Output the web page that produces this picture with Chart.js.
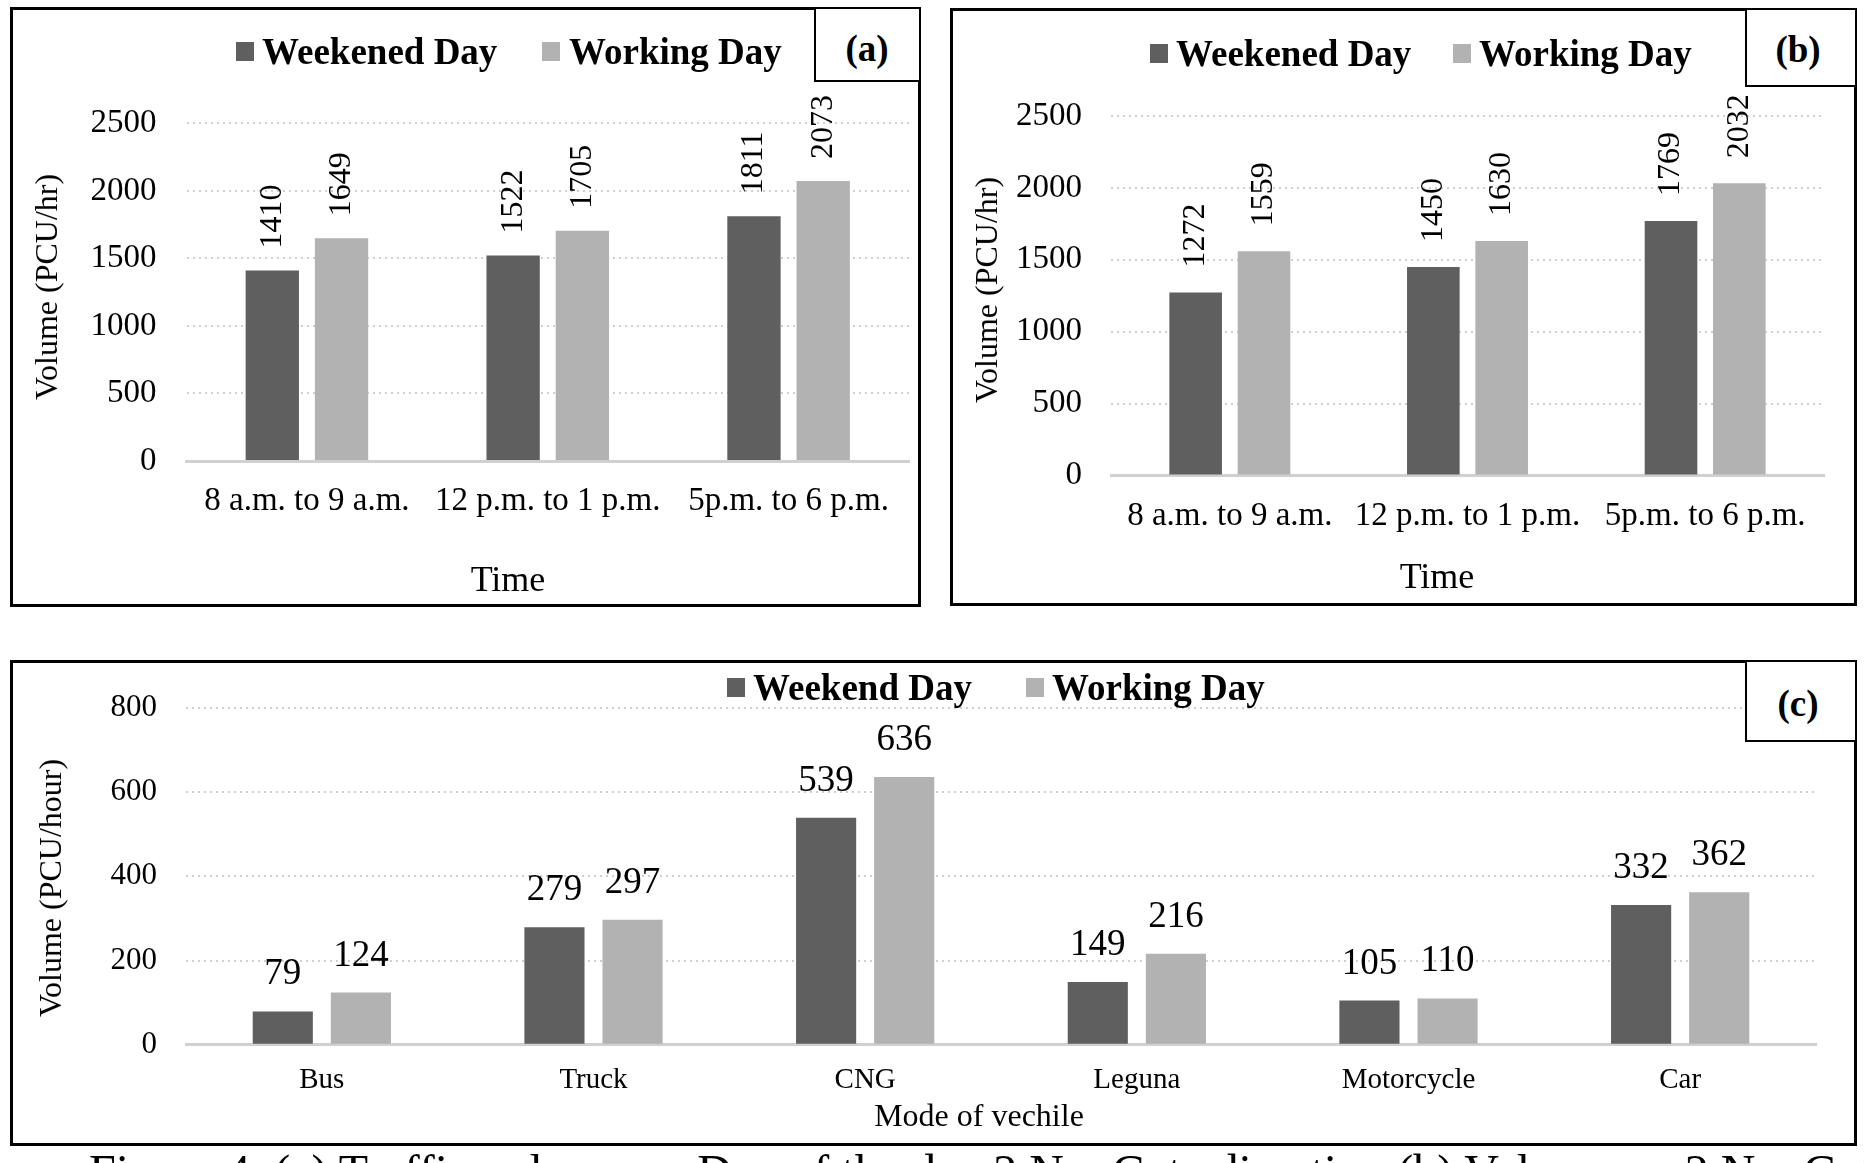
<!DOCTYPE html>
<html>
<head>
<meta charset="utf-8">
<script src="https://cdn.jsdelivr.net/npm/chart.js@4.4.0/dist/chart.umd.min.js"></script>
<style>
html,body{margin:0;padding:0;background:#fff;width:1864px;height:1163px;overflow:hidden;font-family:"Liberation Serif","Times New Roman",serif;color:#000;}
.panel{position:absolute;border:3px solid #000;box-sizing:border-box;}
canvas{position:absolute;}
.tag{position:absolute;border:2px solid #000;box-sizing:border-box;background:#fff;}
.txt{position:absolute;white-space:nowrap;line-height:1;}
.c{transform:translate(-50%,-50%);}
.r{transform:translate(-50%,-50%) rotate(-90deg);}
.l{transform:translateY(-50%);}
.b{font-weight:bold;}
.sw{position:absolute;width:18px;height:19px;}
</style>
</head>
<body>

<!-- panel frames -->
<div class="panel" style="left:10px;top:7px;width:911px;height:600px;"></div>
<div class="panel" style="left:950px;top:8px;width:907px;height:598px;"></div>
<div class="panel" style="left:10px;top:660px;width:1847px;height:486px;"></div>

<canvas id="chartA" width="911" height="600" style="left:10px;top:7px;"></canvas>
<canvas id="chartB" width="907" height="598" style="left:950px;top:8px;"></canvas>
<canvas id="chartC" width="1847" height="486" style="left:10px;top:660px;"></canvas>

<!-- panel tags -->
<div class="tag" style="left:814px;top:7px;width:107px;height:75px;"></div>
<div class="txt c b" style="left:867px;top:48px;font-size:37px;">(a)</div>
<div class="tag" style="left:1745px;top:8px;width:112px;height:79px;"></div>
<div class="txt c b" style="left:1798px;top:49px;font-size:37px;">(b)</div>
<div class="tag" style="left:1745px;top:660px;width:112px;height:82px;"></div>
<div class="txt c b" style="left:1798px;top:703px;font-size:37px;">(c)</div>

<!-- legends -->
<div class="sw" style="left:236px;top:42px;background:#5f5f5f;"></div>
<div class="txt l b" style="left:262px;top:51px;font-size:37px;">Weekened Day</div>
<div class="sw" style="left:542px;top:42px;background:#b2b2b2;"></div>
<div class="txt l b" style="left:569px;top:51px;font-size:37px;">Working Day</div>

<div class="sw" style="left:1150px;top:44px;background:#5f5f5f;"></div>
<div class="txt l b" style="left:1176px;top:53px;font-size:37px;">Weekened Day</div>
<div class="sw" style="left:1453px;top:44px;background:#b2b2b2;"></div>
<div class="txt l b" style="left:1479px;top:53px;font-size:37px;">Working Day</div>

<div class="sw" style="left:727px;top:678px;background:#5f5f5f;"></div>
<div class="txt l b" style="left:753px;top:687px;font-size:37px;">Weekend Day</div>
<div class="sw" style="left:1026px;top:678px;background:#b2b2b2;"></div>
<div class="txt l b" style="left:1052px;top:687px;font-size:37px;">Working Day</div>

<!-- axis titles -->
<div class="txt r" style="left:46px;top:287px;font-size:32px;">Volume (PCU/hr)</div>
<div class="txt c" style="left:508px;top:579px;font-size:36px;">Time</div>
<div class="txt r" style="left:986px;top:290px;font-size:32px;">Volume (PCU/hr)</div>
<div class="txt c" style="left:1437px;top:576px;font-size:36px;">Time</div>
<div class="txt r" style="left:50px;top:888px;font-size:32px;">Volume (PCU/hour)</div>
<div class="txt c" style="left:979px;top:1115px;font-size:32px;">Mode of vechile</div>

<!-- caption (cut off by page edge) -->
<div class="txt" style="left:89px;top:1148px;font-size:48px;">Figure 4. (a) Traffic volume on Day of the day 2 No. Gate direction (b) Volume on 2 No. Gate direction</div>

<script>
// ---------- data ----------
const timeLabels = ['8 a.m. to 9 a.m.', '12 p.m. to 1 p.m.', '5p.m. to 6 p.m.'];
const aWeekend = [1410, 1522, 1811];
const aWorking = [1649, 1705, 2073];
const bWeekend = [1272, 1450, 1769];
const bWorking = [1559, 1630, 2032];
const modeLabels = ['Bus', 'Truck', 'CNG', 'Leguna', 'Motorcycle', 'Car'];
const cWeekend = [79, 279, 539, 149, 105, 332];
const cWorking = [124, 297, 636, 216, 110, 362];
const timeTicks = [0, 500, 1000, 1500, 2000, 2500];
const modeTicks = [0, 200, 400, 600, 800];

// ---------- styling ----------
const DARK = '#5f5f5f';
const LIGHT = '#b2b2b2';
const FONT = '"Liberation Serif", "Times New Roman", serif';

const valueLabels = {
  id: 'valueLabels',
  afterDatasetsDraw(chart, args, opts) {
    const ctx = chart.ctx;
    ctx.save();
    ctx.fillStyle = '#000';
    ctx.font = opts.size + 'px ' + FONT;
    chart.data.datasets.forEach((ds, i) => {
      chart.getDatasetMeta(i).data.forEach((bar, j) => {
        const txt = String(ds.data[j]);
        if (opts.rotate) {
          ctx.save();
          ctx.translate(bar.x, bar.y - opts.offset);
          ctx.rotate(-Math.PI / 2);
          ctx.textAlign = 'left';
          ctx.textBaseline = 'middle';
          ctx.fillText(txt, 0, 0);
          ctx.restore();
        } else {
          ctx.textAlign = 'center';
          ctx.textBaseline = 'alphabetic';
          ctx.fillText(txt, bar.x, bar.y - opts.offset);
        }
      });
    });
    ctx.restore();
  }
};

function makeChart(id, canvasRect, plotRect, labels, weekend, working, ticks, st) {
  const padTop = plotRect.top - canvasRect.top;
  const padRight = canvasRect.right - plotRect.right;
  const yW = plotRect.left - canvasRect.left;
  const xH = canvasRect.bottom - plotRect.bottom;
  return new Chart(document.getElementById(id), {
    type: 'bar',
    data: {
      labels: labels,
      datasets: [
        { label: 'Weekend Day', data: weekend, backgroundColor: DARK, categoryPercentage: 0.575, barPercentage: 0.77 },
        { label: 'Working Day', data: working, backgroundColor: LIGHT, categoryPercentage: 0.575, barPercentage: 0.77 }
      ]
    },
    options: {
      responsive: false,
      animation: false,
      layout: { padding: { top: padTop, right: padRight, left: 0, bottom: 0 } },
      plugins: {
        legend: { display: false },
        tooltip: { enabled: false },
        valueLabels: st.labels
      },
      scales: {
        x: {
          grid: { display: false, drawTicks: false },
          border: { display: true, color: '#d0d0d0', width: 3 },
          ticks: { color: '#000', font: { family: FONT, size: st.xSize }, padding: st.xPad, maxRotation: 0, autoSkip: false },
          afterFit: s => { s.height = xH; }
        },
        y: {
          min: ticks[0],
          max: ticks[ticks.length - 1],
          afterBuildTicks: s => { s.ticks = ticks.map(v => ({ value: v })); },
          grid: { color: '#cfcfcf', lineWidth: 2, drawTicks: false },
          border: { display: false, dash: [2, 4] },
          ticks: { color: '#000', font: { family: FONT, size: st.ySize }, padding: st.yPad, callback: v => String(v) },
          afterFit: s => { s.width = yW; }
        }
      }
    },
    plugins: [valueLabels]
  });
}

makeChart('chartA',
  { left: 10, top: 7, right: 921, bottom: 607 },
  { left: 186.5, top: 123.3, right: 909, bottom: 461 },
  timeLabels, aWeekend, aWorking, timeTicks,
  { xSize: 33, xPad: 21, ySize: 33, yPad: 30, labels: { rotate: true, offset: 22, size: 32 } });

makeChart('chartB',
  { left: 950, top: 8, right: 1857, bottom: 606 },
  { left: 1111, top: 116, right: 1824, bottom: 475.5 },
  timeLabels, bWeekend, bWorking, timeTicks,
  { xSize: 33, xPad: 21, ySize: 33, yPad: 29, labels: { rotate: true, offset: 25, size: 32 } });

makeChart('chartC',
  { left: 10, top: 660, right: 1857, bottom: 1146 },
  { left: 186, top: 708, right: 1816, bottom: 1044.7 },
  modeLabels, cWeekend, cWorking, modeTicks,
  { xSize: 29, xPad: 18, ySize: 31, yPad: 29, labels: { rotate: false, offset: 27, size: 37 } });
</script>
</body>
</html>
